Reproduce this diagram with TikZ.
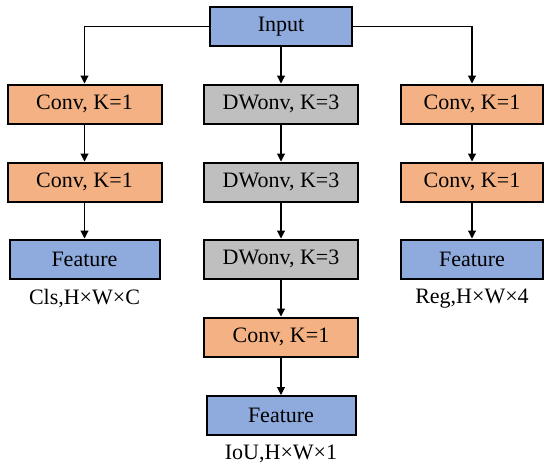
\documentclass[tikz,border=0pt]{standalone}
\usepackage{fontspec}
\setmainfont{Liberation Serif}
\usetikzlibrary{arrows.meta}
\definecolor{orangebox}{HTML}{F4B183}
\definecolor{graybox}{HTML}{BFBFBF}
\definecolor{bluebox}{HTML}{8FAADC}
\begin{document}
\begin{tikzpicture}[x=1pt,y=-1pt,
  box/.style={draw=black,line width=2pt,minimum height=39pt,inner sep=0pt,
    font=\fontsize{22}{24}\selectfont,anchor=center},
  convbox/.style={box,fill=orangebox},
  dwbox/.style={box,fill=graybox,minimum width=154pt},
  featbox/.style={box,fill=bluebox},
  lbl/.style={font=\fontsize{22}{24}\selectfont,inner sep=0pt},
  conn/.style={line width=1.1pt,-{Triangle[length=8pt,width=8pt]}}]
\useasboundingbox (0,0) rectangle (550,469);
\node[featbox,minimum width=142pt] (in) at (281,26.5) {Input};
% left
\node[convbox,minimum width=154pt] (l1) at (84.5,104) {Conv, K=1};
\node[convbox,minimum width=154pt] (l2) at (84.5,182) {Conv, K=1};
\node[featbox,minimum width=150pt] (l3) at (84.5,259) {Feature};
\node[lbl] (ll) at (84.5,299) {Cls,H×W×C};
% middle
\node[dwbox] (m1) at (281,104) {DWonv, K=3};
\node[dwbox] (m2) at (281,182) {DWonv, K=3};
\node[dwbox] (m3) at (281,259) {DWonv, K=3};
\node[convbox,minimum width=154pt] (m4) at (281,337) {Conv, K=1};
\node[featbox,minimum width=149pt] (m5) at (281,415.5) {Feature};
\node[lbl] (ml) at (281,454) {IoU,H×W×1};
% right
\node[convbox,minimum width=142pt] (r1) at (472,104) {Conv, K=1};
\node[convbox,minimum width=142pt] (r2) at (472,182) {Conv, K=1};
\node[featbox,minimum width=142pt] (r3) at (472,259) {Feature};
\node[lbl] (rl) at (472,299) {Reg,H×W×4};
% connectors
\draw[conn] (in.west) -| (l1.north);
\draw[conn] (in.east) -| (r1.north);
\draw[conn] (in) -- (m1);
\draw[conn] (l1) -- (l2);
\draw[conn] (l2) -- (l3);
\draw[conn] (m1) -- (m2);
\draw[conn] (m2) -- (m3);
\draw[conn] (m3) -- (m4);
\draw[conn] (m4) -- (m5);
\draw[conn] (r1) -- (r2);
\draw[conn] (r2) -- (r3);
\end{tikzpicture}
\end{document}
